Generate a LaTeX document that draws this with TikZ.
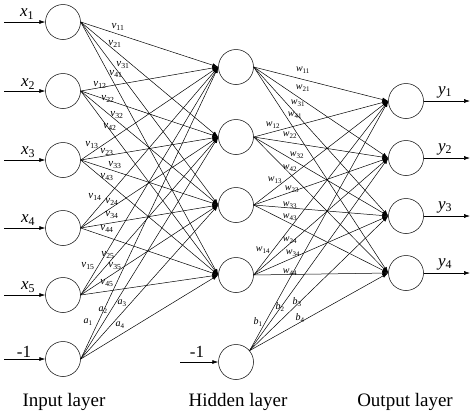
\documentclass[tikz,border=0pt]{standalone}
\usepackage{fontspec}
\setmainfont{Liberation Serif}
\usetikzlibrary{arrows.meta}
\newcommand\lbl[2]{\textit{#1}\textsubscript{#2}}
\begin{document}
\begin{tikzpicture}[x=1pt,y=-1pt,
  neuron/.style={circle,draw,line width=0.5pt,minimum size=35pt,inner sep=0pt},
  conn/.style={line width=0.5pt,-{Latex[length=6pt,width=4pt]}},
  io/.style={line width=0.55pt,-{Latex[length=6pt,width=4pt]}},
  vlab/.style={font=\fontsize{11}{11}\selectfont,inner sep=0pt},
  wlab/.style={font=\fontsize{10}{10}\selectfont,inner sep=0pt},
  xlab/.style={font=\fontsize{17}{17}\selectfont,inner sep=0pt},
  layer/.style={font=\fontsize{19}{19}\selectfont,inner sep=0pt}]
\useasboundingbox (0,0) rectangle (474,413);
% input layer
\foreach \n/\y in {1/22,2/91,3/160,4/228,5/295,6/359}{
  \node[neuron] (i\n) at (63,\y) {};
  \coordinate (s\n) at (4,\y);
  \draw[io] (s\n) -- (i\n.west);
}
% hidden layer
\foreach \n/\y in {1/67,2/137,3/205,4/275,5/362}{
  \node[neuron] (h\n) at (236,\y) {};
}
\coordinate (sh) at (180,362);
\draw[io] (sh) -- (h5.west);
% output layer
\foreach \n/\y in {1/101,2/158,3/216,4/273}{
  \node[neuron] (o\n) at (406,\y) {};
  \coordinate (e\n) at (470,\y);
  \draw[io] (o\n.east) -- (e\n);
}
% connections
\foreach \i in {1,...,6}{
  \foreach \h in {1,...,4}{
    \draw[conn] (i\i.east) -- (h\h.west);
  }
}
\foreach \h in {1,...,4}{
  \foreach \o in {1,...,4}{
    \draw[conn] (h\h.east) -- (o\o.west);
  }
  \draw[conn] (h5.40) -- (o\h.west);
}
% input labels
\node[xlab] (lx1) at (27,14) {\lbl{x}{1}};
\node[xlab] (lx2) at (28,84) {\lbl{x}{2}};
\node[xlab] (lx3) at (28,152) {\lbl{x}{3}};
\node[xlab] (lx4) at (28,220) {\lbl{x}{4}};
\node[xlab] (lx5) at (28,287) {\lbl{x}{5}};
\node[xlab] (lm1) at (24,352) {-1};
\node[xlab] (lm2) at (197,352) {-1};
% output labels
\foreach \n/\y in {1/92,2/149,3/207,4/264}{
  \node[xlab] (ly\n) at (445,\y) {\lbl{y}{\n}};
}
% v labels
\node[vlab] at (118,27) {\lbl{v}{11}};
\node[vlab] at (115,44) {\lbl{v}{21}};
\node[vlab] at (123,65) {\lbl{v}{31}};
\node[vlab] at (116,74) {\lbl{v}{41}};
\node[vlab] at (100,85) {\lbl{v}{12}};
\node[vlab] at (108,99) {\lbl{v}{22}};
\node[vlab] at (117,115) {\lbl{v}{32}};
\node[vlab] at (110,127) {\lbl{v}{42}};
\node[vlab] at (92,145) {\lbl{v}{13}};
\node[vlab] at (107,152) {\lbl{v}{23}};
\node[vlab] at (115,165) {\lbl{v}{33}};
\node[vlab] at (107,177) {\lbl{v}{43}};
\node[vlab] at (95,197) {\lbl{v}{14}};
\node[vlab] at (112,202) {\lbl{v}{24}};
\node[vlab] at (112,215) {\lbl{v}{34}};
\node[vlab] at (107,229) {\lbl{v}{44}};
\node[vlab] at (88,266) {\lbl{v}{15}};
\node[vlab] at (108,255) {\lbl{v}{25}};
\node[vlab] at (115,266) {\lbl{v}{35}};
\node[vlab] at (107,283) {\lbl{v}{45}};
% a labels
\node[wlab] at (88,322) {\lbl{a}{1}};
\node[wlab] at (103,310) {\lbl{a}{2}};
\node[wlab] at (122,303) {\lbl{a}{3}};
\node[wlab] at (120,325) {\lbl{a}{4}};
% w labels
\node[wlab] at (303,70) {\lbl{w}{11}};
\node[wlab] at (303,88) {\lbl{w}{21}};
\node[wlab] at (298,103) {\lbl{w}{31}};
\node[wlab] at (295,115) {\lbl{w}{41}};
\node[wlab] at (273,125) {\lbl{w}{12}};
\node[wlab] at (290,135) {\lbl{w}{22}};
\node[wlab] at (297,155) {\lbl{w}{32}};
\node[wlab] at (290,168) {\lbl{w}{42}};
\node[wlab] at (275,180) {\lbl{w}{13}};
\node[wlab] at (292,189) {\lbl{w}{23}};
\node[wlab] at (290,205) {\lbl{w}{33}};
\node[wlab] at (290,217) {\lbl{w}{43}};
\node[wlab] at (263,250) {\lbl{w}{14}};
\node[wlab] at (290,240) {\lbl{w}{24}};
\node[wlab] at (293,253) {\lbl{w}{34}};
\node[wlab] at (290,272) {\lbl{w}{44}};
% b labels
\node[wlab] at (258,322) {\lbl{b}{1}};
\node[wlab] at (280,307) {\lbl{b}{2}};
\node[wlab] at (297,302) {\lbl{b}{3}};
\node[wlab] at (300,318) {\lbl{b}{4}};
% layer names
\node[layer] (ln1) at (64,402) {Input layer};
\node[layer] (ln2) at (238,402) {Hidden layer};
\node[layer] (ln3) at (405,402) {Output layer};
\end{tikzpicture}
\end{document}
